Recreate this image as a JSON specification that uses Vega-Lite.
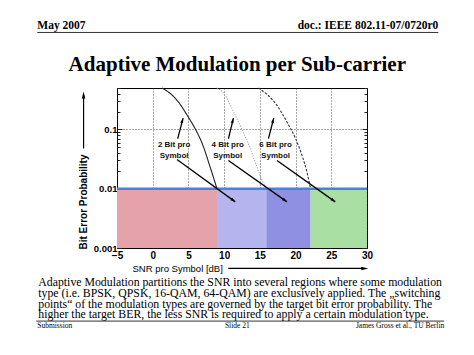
{
  "$schema": "https://vega.github.io/schema/vega-lite/v6.json",
  "width": 250,
  "height": 160,
  "autosize": "none",
  "padding": {"left": 117, "top": 88, "right": 107, "bottom": 107},
  "background": "white",
  "config": {
    "view": {"stroke": "black", "strokeWidth": 1},
    "font": "Liberation Sans"
  },
  "layer": [
    {
      "encoding": {
        "x": {
          "field": "x",
          "type": "quantitative",
          "scale": {"domain": [-5, 30], "nice": false, "zero": false},
          "axis": {
            "values": [-5, 0, 5, 10, 15, 20, 25, 30],
            "title": "SNR pro Symbol [dB]",
            "titleFont": "Liberation Sans",
            "titleFontSize": 9.5,
            "titleFontWeight": "normal",
            "titleColor": "black",
            "titleX": 15,
            "titleY": 23,
            "titleAlign": "left",
            "titleBaseline": "alphabetic",
            "labelFont": "Liberation Sans",
            "labelFontSize": 10,
            "labelFontWeight": "bold",
            "labelColor": "black",
            "labelPadding": 2,
            "labelOverlap": false,
            "labelFlush": false,
            "ticks": false,
            "domain": false,
            "grid": true,
            "gridColor": "#222",
            "gridDash": [1, 2],
            "gridWidth": 0.8
          }
        },
        "y": {
          "field": "y",
          "type": "quantitative",
          "scale": {"type": "log", "domain": [0.001, 0.5], "nice": false},
          "axis": {
            "values": [0.001, 0.002, 0.003, 0.004, 0.005, 0.006, 0.007, 0.008, 0.009, 0.01, 0.02, 0.03, 0.04, 0.05, 0.06, 0.07, 0.08, 0.09, 0.1, 0.2, 0.3, 0.4, 0.5],
            "labelExpr": "datum.value == 0.1 ? '0.1' : datum.value == 0.01 ? '0.01' : datum.value == 0.001 ? '0.001' : ''",
            "title": "Bit Error Probability",
            "titleFont": "Liberation Sans",
            "titleFontSize": 10,
            "titleFontWeight": "bold",
            "titleColor": "black",
            "titleAngle": -90,
            "titleX": -34,
            "titleY": 161,
            "titleAlign": "left",
            "titleBaseline": "middle",
            "labelFont": "Liberation Sans",
            "labelFontSize": 9.5,
            "labelFontWeight": "bold",
            "labelColor": "black",
            "labelPadding": 5,
            "labelOverlap": false,
            "labelFlush": false,
            "ticks": true,
            "tickColor": "#222",
            "tickSize": {"condition": {"test": "datum.value == 0.1 || datum.value == 0.01 || datum.value == 0.001", "value": -5}, "value": -3},
            "domain": false,
            "grid": true,
            "gridColor": "#222",
            "gridDash": [1, 2],
            "gridWidth": 0.8,
            "gridOpacity": {"condition": {"test": "datum.value == 0.1", "value": 1}, "value": 0}
          }
        }
      },
      "layer": [
        {
          "data": {
            "values": [
              {"mod": "BPSK", "x": -5, "x2": 9, "y": 0.001, "y2": 0.01},
              {"mod": "QPSK", "x": 9, "x2": 15.9, "y": 0.001, "y2": 0.01},
              {"mod": "16-QAM", "x": 15.9, "x2": 22.1, "y": 0.001, "y2": 0.01},
              {"mod": "64-QAM", "x": 22.1, "x2": 30, "y": 0.001, "y2": 0.01}
            ]
          },
          "mark": {"type": "rect", "opacity": 1},
          "encoding": {
            "x2": {"field": "x2"},
            "y2": {"field": "y2"},
            "color": {
              "field": "mod",
              "type": "nominal",
              "scale": {"domain": ["BPSK", "QPSK", "16-QAM", "64-QAM"], "range": ["#e5a2ab", "#b4b4ee", "#9090e2", "#a9dfa2"]},
              "legend": null
            }
          }
        },
        {
          "data": {
            "values": [
              {"bits": "2", "x": 1.3, "y": 0.5},
              {"bits": "2", "x": 2.5, "y": 0.4},
              {"bits": "2", "x": 3.7, "y": 0.28},
              {"bits": "2", "x": 5.0, "y": 0.16},
              {"bits": "2", "x": 6.0, "y": 0.1},
              {"bits": "2", "x": 7.0, "y": 0.055},
              {"bits": "2", "x": 8.0, "y": 0.024},
              {"bits": "2", "x": 9.0, "y": 0.01},
              {"bits": "4", "x": 9.0, "y": 0.5},
              {"bits": "4", "x": 10.0, "y": 0.4},
              {"bits": "4", "x": 11.3, "y": 0.2},
              {"bits": "4", "x": 12.5, "y": 0.1},
              {"bits": "4", "x": 13.6, "y": 0.05},
              {"bits": "4", "x": 14.5, "y": 0.025},
              {"bits": "4", "x": 15.2, "y": 0.015},
              {"bits": "4", "x": 15.9, "y": 0.01},
              {"bits": "6", "x": 14.8, "y": 0.5},
              {"bits": "6", "x": 17.4, "y": 0.254},
              {"bits": "6", "x": 18.8, "y": 0.133},
              {"bits": "6", "x": 20.0, "y": 0.07},
              {"bits": "6", "x": 20.9, "y": 0.0365},
              {"bits": "6", "x": 21.6, "y": 0.019},
              {"bits": "6", "x": 22.1, "y": 0.01}
            ]
          },
          "mark": {"type": "line", "interpolate": "monotone", "strokeWidth": 1.1},
          "encoding": {
            "detail": {"field": "bits"},
            "stroke": {
              "field": "bits",
              "type": "nominal",
              "scale": {"domain": ["2", "4", "6"], "range": ["#222222", "#9a9a9a", "#333333"]},
              "legend": null
            },
            "strokeDash": {
              "field": "bits",
              "type": "nominal",
              "scale": {"domain": ["2", "4", "6"], "range": [[1, 0], [1, 1.5], [2.5, 1.5]]},
              "legend": null
            }
          }
        }
      ]
    },
    {
      "data": {"values": [{"x": -5, "x2": 30, "y": 0.01}]},
      "mark": {"type": "rule", "color": "#4f7fd8", "strokeWidth": 2.5},
      "encoding": {
        "x": {"field": "x", "type": "quantitative", "scale": {"domain": [-5, 30], "nice": false, "zero": false}, "axis": null},
        "x2": {"field": "x2"},
        "y": {
          "field": "y",
          "type": "quantitative",
          "scale": {"type": "log", "domain": [0.001, 0.5], "nice": false},
          "axis": {
            "orient": "right",
            "values": [0.001, 0.002, 0.003, 0.004, 0.005, 0.006, 0.007, 0.008, 0.009, 0.01, 0.02, 0.03, 0.04, 0.05, 0.06, 0.07, 0.08, 0.09, 0.1, 0.2, 0.3, 0.4, 0.5],
            "labels": false,
            "title": null,
            "ticks": true,
            "tickColor": "#222",
            "tickSize": {"condition": {"test": "datum.value == 0.1 || datum.value == 0.01 || datum.value == 0.001", "value": -5}, "value": -3},
            "domain": false,
            "grid": false
          }
        }
      }
    },
    {
      "encoding": {
        "x": {"field": "x", "type": "quantitative", "scale": {"domain": [-5, 30], "nice": false, "zero": false}, "axis": null},
        "y": {"field": "y", "type": "quantitative", "scale": {"type": "log", "domain": [0.001, 0.5], "nice": false}, "axis": null}
      },
      "layer": [
        {
          "data": {
            "values": [
              {"dir": "up", "x": 3.5, "y": 0.07, "x2": 4.25, "y2": 0.155},
              {"dir": "up", "x": 10.6, "y": 0.07, "x2": 11.3, "y2": 0.155},
              {"dir": "up", "x": 16.2, "y": 0.07, "x2": 16.95, "y2": 0.155},
              {"dir": "down", "x": 3.4, "y": 0.031, "x2": 11.56, "y2": 0.006},
              {"dir": "down", "x": 10.6, "y": 0.03, "x2": 18.8, "y2": 0.006},
              {"dir": "down", "x": 17.4, "y": 0.03, "x2": 25.56, "y2": 0.006}
            ]
          },
          "layer": [
            {
              "mark": {"type": "rule", "color": "black", "strokeWidth": 1.3},
              "encoding": {"x2": {"field": "x2"}, "y2": {"field": "y2"}}
            },
            {
              "transform": [{"filter": "datum.dir == 'up'"}],
              "mark": {"type": "point", "shape": "M0,0L-0.55,1.8L0.55,1.8Z", "filled": true, "color": "black", "opacity": 1, "size": 30, "angle": 16},
              "encoding": {
                "x": {"field": "x2", "type": "quantitative", "axis": null},
                "y": {"field": "y2", "type": "quantitative", "axis": null}
              }
            },
            {
              "transform": [{"filter": "datum.dir == 'down'"}],
              "mark": {"type": "point", "shape": "M0,0L-0.55,1.8L0.55,1.8Z", "filled": true, "color": "black", "opacity": 1, "size": 30, "angle": 126},
              "encoding": {
                "x": {"field": "x2", "type": "quantitative", "axis": null},
                "y": {"field": "y2", "type": "quantitative", "axis": null}
              }
            }
          ]
        },
        {
          "data": {
            "values": [
              {"label": "2 Bit pro\nSymbol", "x": 3.0, "y": 0.0511},
              {"label": "4 Bit pro\nSymbol", "x": 10.5, "y": 0.0511},
              {"label": "6 Bit pro\nSymbol", "x": 17.2, "y": 0.0511}
            ]
          },
          "mark": {"type": "text", "lineBreak": "\n", "lineHeight": 11, "font": "Liberation Sans", "fontSize": 8, "fontWeight": "bold", "color": "#111", "align": "center", "baseline": "alphabetic"},
          "encoding": {"text": {"field": "label"}}
        }
      ]
    },
    {
      "data": {"values": [{"axis": "y"}]},
      "layer": [
        {
          "mark": {"type": "rule", "color": "black", "strokeWidth": 1.2, "clip": false},
          "encoding": {
            "x": {"datum": -9.68, "type": "quantitative", "scale": {"domain": [-5, 30], "nice": false, "zero": false}, "axis": null},
            "y": {"datum": 0.0478, "type": "quantitative", "scale": {"type": "log", "domain": [0.001, 0.5], "nice": false}, "axis": null},
            "y2": {"datum": 0.37}
          }
        },
        {
          "mark": {"type": "point", "shape": "M0,0L-0.55,2.2L0.55,2.2Z", "filled": true, "color": "black", "opacity": 1, "size": 40, "angle": 0, "clip": false},
          "encoding": {
            "x": {"datum": -9.68, "type": "quantitative", "scale": {"domain": [-5, 30], "nice": false, "zero": false}, "axis": null},
            "y": {"datum": 0.4377, "type": "quantitative", "scale": {"type": "log", "domain": [0.001, 0.5], "nice": false}, "axis": null}
          }
        },
        {
          "mark": {"type": "rule", "color": "black", "strokeWidth": 1.2, "clip": false},
          "encoding": {
            "x": {"datum": 10.58, "type": "quantitative", "scale": {"domain": [-5, 30], "nice": false, "zero": false}, "axis": null},
            "x2": {"datum": 29.4},
            "y": {"datum": 0.000453, "type": "quantitative", "scale": {"type": "log", "domain": [0.001, 0.5], "nice": false}, "axis": null}
          }
        },
        {
          "mark": {"type": "point", "shape": "M0,0L-0.55,2.2L0.55,2.2Z", "filled": true, "color": "black", "opacity": 1, "size": 40, "angle": 90, "clip": false},
          "encoding": {
            "x": {"datum": 30.18, "type": "quantitative", "scale": {"domain": [-5, 30], "nice": false, "zero": false}, "axis": null},
            "y": {"datum": 0.000453, "type": "quantitative", "scale": {"type": "log", "domain": [0.001, 0.5], "nice": false}, "axis": null}
          }
        }
      ]
    },
    {
      "data": {"values": [{"left": "May 2007", "right": "doc.: IEEE 802.11-07/0720r0", "title": "Adaptive Modulation per Sub-carrier"}]},
      "layer": [
        {
          "mark": {"type": "text", "font": "Liberation Serif", "fontSize": 11.5, "fontWeight": "bold", "color": "black", "align": "left", "baseline": "alphabetic", "clip": false},
          "encoding": {
            "x": {"datum": -16.16, "type": "quantitative", "scale": {"domain": [-5, 30], "nice": false, "zero": false}, "axis": null},
            "y": {"datum": 4.953, "type": "quantitative", "scale": {"type": "log", "domain": [0.001, 0.5], "nice": false}, "axis": null},
            "text": {"field": "left"}
          }
        },
        {
          "mark": {"type": "text", "font": "Liberation Serif", "fontSize": 11.5, "fontWeight": "bold", "color": "black", "align": "right", "baseline": "alphabetic", "clip": false},
          "encoding": {
            "x": {"datum": 39.98, "type": "quantitative", "scale": {"domain": [-5, 30], "nice": false, "zero": false}, "axis": null},
            "y": {"datum": 4.953, "type": "quantitative", "scale": {"type": "log", "domain": [0.001, 0.5], "nice": false}, "axis": null},
            "text": {"field": "right"}
          }
        },
        {
          "mark": {"type": "rule", "color": "#333", "strokeWidth": 1, "clip": false},
          "encoding": {
            "x": {"datum": -16.16, "type": "quantitative", "scale": {"domain": [-5, 30], "nice": false, "zero": false}, "axis": null},
            "x2": {"datum": 39.98},
            "y": {"datum": 4.323, "type": "quantitative", "scale": {"type": "log", "domain": [0.001, 0.5], "nice": false}, "axis": null}
          }
        },
        {
          "mark": {"type": "text", "font": "Liberation Serif", "fontSize": 21, "fontWeight": "bold", "color": "black", "align": "center", "baseline": "alphabetic", "clip": false},
          "encoding": {
            "x": {"datum": 11.84, "type": "quantitative", "scale": {"domain": [-5, 30], "nice": false, "zero": false}, "axis": null},
            "y": {"datum": 0.96, "type": "quantitative", "scale": {"type": "log", "domain": [0.001, 0.5], "nice": false}, "axis": null},
            "text": {"field": "title"}
          }
        }
      ]
    },
    {
      "data": {
        "values": [
          {"para": "Adaptive Modulation partitions the SNR into several regions where some modulation\ntype (i.e. BPSK, QPSK, 16-QAM, 64-QAM) are exclusively applied. The „switching\npoints“ of the modulation types are governed by the target bit error probability. The\nhigher the target BER, the less SNR is required to apply a certain modulation type.",
           "foot1": "Submission", "foot2": "Slide 21", "foot3": "James Gross et al., TU Berlin"}
        ]
      },
      "layer": [
        {
          "mark": {"type": "text", "lineBreak": "\n", "lineHeight": 10.8, "font": "Liberation Serif", "fontSize": 11.8, "color": "black", "align": "left", "baseline": "alphabetic", "clip": false},
          "encoding": {
            "x": {"datum": -16.02, "type": "quantitative", "scale": {"domain": [-5, 30], "nice": false, "zero": false}, "axis": null},
            "y": {"datum": 0.000229, "type": "quantitative", "scale": {"type": "log", "domain": [0.001, 0.5], "nice": false}, "axis": null},
            "text": {"field": "para"}
          }
        },
        {
          "mark": {"type": "rule", "color": "#333", "strokeWidth": 1, "clip": false},
          "encoding": {
            "x": {"datum": -16.3, "type": "quantitative", "scale": {"domain": [-5, 30], "nice": false, "zero": false}, "axis": null},
            "x2": {"datum": 40.8},
            "y": {"datum": 0.0000585, "type": "quantitative", "scale": {"type": "log", "domain": [0.001, 0.5], "nice": false}, "axis": null}
          }
        },
        {
          "mark": {"type": "text", "font": "Liberation Serif", "fontSize": 7.5, "color": "black", "align": "left", "baseline": "alphabetic", "clip": false},
          "encoding": {
            "x": {"datum": -16.16, "type": "quantitative", "scale": {"domain": [-5, 30], "nice": false, "zero": false}, "axis": null},
            "y": {"datum": 0.0000445, "type": "quantitative", "scale": {"type": "log", "domain": [0.001, 0.5], "nice": false}, "axis": null},
            "text": {"field": "foot1"}
          }
        },
        {
          "mark": {"type": "text", "font": "Liberation Serif", "fontSize": 7.5, "color": "black", "align": "center", "baseline": "alphabetic", "clip": false},
          "encoding": {
            "x": {"datum": 11.84, "type": "quantitative", "scale": {"domain": [-5, 30], "nice": false, "zero": false}, "axis": null},
            "y": {"datum": 0.0000445, "type": "quantitative", "scale": {"type": "log", "domain": [0.001, 0.5], "nice": false}, "axis": null},
            "text": {"field": "foot2"}
          }
        },
        {
          "mark": {"type": "text", "font": "Liberation Serif", "fontSize": 7.5, "color": "black", "align": "right", "baseline": "alphabetic", "clip": false},
          "encoding": {
            "x": {"datum": 40.82, "type": "quantitative", "scale": {"domain": [-5, 30], "nice": false, "zero": false}, "axis": null},
            "y": {"datum": 0.0000445, "type": "quantitative", "scale": {"type": "log", "domain": [0.001, 0.5], "nice": false}, "axis": null},
            "text": {"field": "foot3"}
          }
        }
      ]
    }
  ],
  "resolve": {
    "scale": {"color": "independent", "stroke": "independent"},
    "axis": {"x": "independent", "y": "independent"}
  }
}
